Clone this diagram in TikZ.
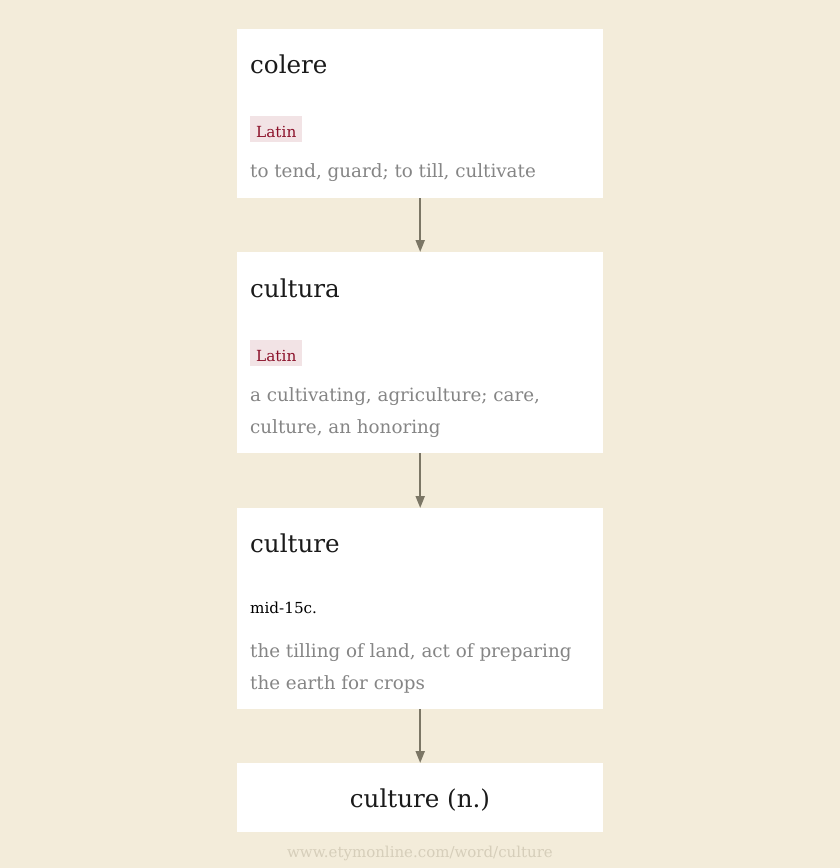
\documentclass[tikz,border=0pt]{standalone}
\usepackage{fontspec}
\setmainfont{DejaVu Serif}
\usetikzlibrary{arrows.meta}
\definecolor{bg}{RGB}{243,236,218}
\definecolor{arrowc}{RGB}{123,118,101}
\definecolor{desc}{RGB}{133,133,133}
\definecolor{titlec}{RGB}{26,26,26}
\definecolor{tagfill}{RGB}{242,227,229}
\definecolor{tagtext}{RGB}{139,16,41}
\definecolor{urlc}{RGB}{214,206,186}
\tikzset{
  card/.style={fill=white, draw=none, anchor=north west, inner sep=0, minimum width=366pt},
  wordt/.style={anchor=base west, inner sep=0, text=titlec, font=\fontsize{24.6}{32}\selectfont},
  desct/.style={anchor=base west, inner sep=0, text=desc, font=\fontsize{18.3}{32}\selectfont},
  tagt/.style={anchor=north west, text=tagtext, fill=tagfill, inner xsep=6pt, inner ysep=0pt, font=\fontsize{15.3}{20}\selectfont, minimum height=26pt, text height=17pt, text depth=0pt},
  datet/.style={anchor=base west, inner sep=0, text=black, font=\fontsize{15.2}{20}\selectfont},
  arr/.style={draw=arrowc, line width=2pt, -{Triangle[length=12pt,width=9pt]}},
}
\begin{document}
\begin{tikzpicture}[x=1pt,y=-1pt]
\useasboundingbox (0,0) rectangle (840,868);
\fill[bg] (0,0) rectangle (840,868);
% cards
\node[card, minimum height=169pt] (b1) at (237,29) {};
\node[card, minimum height=201pt] (b2) at (237,252) {};
\node[card, minimum height=201pt] (b3) at (237,508) {};
\node[card, minimum height=69pt] (b4) at (237,763) {};
% card 1
\node[wordt] (w1) at (250,73) {colere};
\node[tagt] (t1) at (250,116) {Latin};
\node[desct] (d1) at (250,177) {to tend, guard; to till, cultivate};
% card 2
\node[wordt] (w2) at (250,297) {cultura};
\node[tagt] (t2) at (250,340) {Latin};
\node[desct] (d2a) at (250,401) {a cultivating, agriculture; care,};
\node[desct] (d2b) at (250,433) {culture, an honoring};
% card 3
\node[wordt] (w3) at (250,552) {culture};
\node[datet] (dt3) at (250,613) {mid-15c.};
\node[desct] (d3a) at (250,657) {the tilling of land, act of preparing};
\node[desct] (d3b) at (250,689) {the earth for crops};
% card 4
\node[wordt, anchor=base] (w4) at (420,807) {culture (n.)};
% url
\node[anchor=base, inner sep=0, text=urlc, font=\fontsize{15}{20}\selectfont] (url) at (420,857) {www.etymonline.com/word/culture};
% arrows
\draw[arr] (b1.south) -- (b2.north);
\draw[arr] (b2.south) -- (b3.north);
\draw[arr] (b3.south) -- (b4.north);
\end{tikzpicture}
\end{document}
